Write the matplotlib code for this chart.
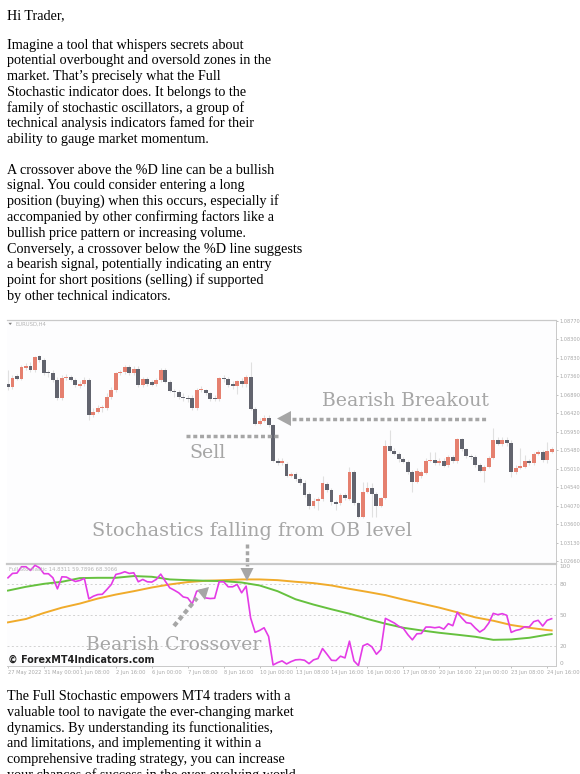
import numpy as np
import matplotlib
matplotlib.use('Agg')
import matplotlib.pyplot as plt
from matplotlib.patches import Polygon

# candles (EURUSD H4)
opens = [1.07155,1.07088,1.07367,1.07291,1.07562,1.07621,1.07519,1.07867,1.07782,1.07469,
         1.07452,1.07265,1.06800,1.07308,1.07342,1.07274,1.07121,1.07172,1.07257,1.06376,
         1.06461,1.06545,1.06554,1.06833,1.07020,1.07435,1.07460,1.07587,1.07452,1.07536,
         1.07147,1.07282,1.07206,1.07155,1.07257,1.07511,1.07223,1.06994,1.06952,1.06842,
         1.06816,1.06800,1.06545,1.07011,1.07003,1.06927,1.06800,1.06774,1.07325,1.07282,
         1.07155,1.07104,1.07248,1.07155,1.07342,1.06520,1.06147,1.06215,1.06291,1.06130,
         1.05207,1.05156,1.05139,1.04834,1.04885,1.04750,1.04640,1.04360,1.04072,1.04199,
         1.04233,1.04631,1.04479,1.04174,1.04132,1.04335,1.04250,1.04919,1.04132,1.03793,
         1.04411,1.04513,1.04360,1.04072,1.04259,1.05597,1.05470,1.05394,1.05266,1.05190,
         1.04928,1.04665,1.04826,1.04911,1.05216,1.05241,1.05156,1.05216,1.05106,1.05317,
         1.05207,1.05766,1.05504,1.05334,1.05300,1.05106,1.04953,1.05055,1.05292,1.05732,
         1.05648,1.05732,1.05664,1.04919,1.05029,1.05055,1.05207,1.05148,1.05385,1.05444,
         1.05224,1.05444]
closes = [1.07088,1.07308,1.07291,1.07587,1.07621,1.07519,1.07858,1.07782,1.07452,1.07435,
          1.07265,1.06800,1.07308,1.07342,1.07274,1.07138,1.07172,1.07257,1.06376,1.06461,
          1.06554,1.06579,1.06833,1.07020,1.07435,1.07460,1.07587,1.07452,1.07536,1.07147,
          1.07282,1.07164,1.07147,1.07265,1.07511,1.07223,1.06994,1.06952,1.06833,1.06808,
          1.06783,1.06545,1.07020,1.07045,1.06927,1.06783,1.06774,1.07308,1.07282,1.07147,
          1.07104,1.07240,1.07155,1.07342,1.06520,1.06147,1.06215,1.06291,1.06130,1.05207,
          1.05148,1.05199,1.04834,1.04885,1.04750,1.04640,1.04343,1.04055,1.04199,1.04242,
          1.04640,1.04479,1.04174,1.04123,1.04335,1.04259,1.04919,1.04132,1.03793,1.04411,
          1.04513,1.04360,1.04072,1.04259,1.05580,1.05470,1.05394,1.05258,1.05190,1.04928,
          1.04665,1.04953,1.04919,1.05216,1.05241,1.05165,1.05216,1.05089,1.05317,1.05207,
          1.05766,1.05504,1.05334,1.05300,1.05106,1.04953,1.05055,1.05292,1.05732,1.05648,
          1.05732,1.05664,1.04919,1.05029,1.05072,1.05207,1.05148,1.05385,1.05436,1.05224,
          1.05453,1.05521]
highs = [1.0752,1.0739,1.0743,1.0765,1.0769,1.0773,1.0788,1.0790,1.0783,1.0752,
         1.0752,1.0735,1.0739,1.0741,1.0739,1.0731,1.0724,1.0735,1.0731,1.0655,
         1.0663,1.0663,1.0693,1.0710,1.0748,1.0752,1.0765,1.0765,1.0761,1.0761,
         1.0735,1.0735,1.0727,1.0731,1.0756,1.0756,1.0727,1.0705,1.0701,1.0693,
         1.0688,1.0688,1.0707,1.0712,1.0704,1.0697,1.0688,1.0735,1.0739,1.0735,
         1.0723,1.0727,1.0731,1.0739,1.0773,1.0659,1.0629,1.0638,1.0638,1.0616,
         1.0528,1.0528,1.0519,1.0494,1.0494,1.0481,1.0473,1.0443,1.0426,1.0430,
         1.0483,1.0468,1.0453,1.0422,1.0439,1.0439,1.0506,1.0498,1.0417,1.0468,
         1.0468,1.0464,1.0443,1.0430,1.0574,1.0599,1.0553,1.0544,1.0532,1.0523,
         1.0498,1.0502,1.0498,1.0528,1.0544,1.0544,1.0528,1.0528,1.0536,1.0536,
         1.0580,1.0580,1.0555,1.0538,1.0536,1.0515,1.0511,1.0534,1.0604,1.0583,
         1.0583,1.0583,1.0574,1.0511,1.0553,1.0536,1.0526,1.0544,1.0549,1.0549,
         1.0570,1.0557]
lows = [1.0701,1.0704,1.0727,1.0727,1.0752,1.0748,1.0748,1.0773,1.0739,1.0735,
        1.0722,1.0676,1.0676,1.0726,1.0724,1.0710,1.0707,1.0712,1.0625,1.0633,
        1.0642,1.0646,1.0650,1.0678,1.0695,1.0739,1.0741,1.0739,1.0739,1.0710,
        1.0710,1.0712,1.0712,1.0712,1.0722,1.0718,1.0695,1.0684,1.0678,1.0673,
        1.0670,1.0650,1.0650,1.0695,1.0688,1.0673,1.0673,1.0673,1.0722,1.0710,
        1.0704,1.0690,1.0710,1.0710,1.0650,1.0612,1.0612,1.0619,1.0607,1.0519,
        1.0511,1.0511,1.0481,1.0481,1.0470,1.0460,1.0430,1.0400,1.0402,1.0396,
        1.0419,1.0443,1.0409,1.0396,1.0409,1.0422,1.0422,1.0409,1.0377,1.0375,
        1.0439,1.0379,1.0379,1.0405,1.0424,1.0544,1.0536,1.0519,1.0515,1.0489,
        1.0443,1.0464,1.0477,1.0487,1.0519,1.0512,1.0511,1.0506,1.0506,1.0517,
        1.0517,1.0546,1.0529,1.0526,1.0506,1.0492,1.0468,1.0502,1.0526,1.0561,
        1.0560,1.0560,1.0481,1.0487,1.0500,1.0502,1.0511,1.0512,1.0536,1.0519,
        1.0517,1.0540]

# stochastic pane
stoch_k = [86.5,90.8,91.1,97.3,97.3,93.7,98.7,96.4,90.5,90.5,
           86.5,75.7,87.5,87.2,84.9,82.9,83.9,85.9,65.9,68.5,
           70.1,70.4,75.0,80.0,89.8,90.8,92.4,90.8,91.4,82.6,
           84.9,82.6,82.3,84.9,90.1,83.2,76.7,74.4,71.8,67.8,
           66.8,60.9,73.4,74.4,66.8,66.2,66.5,82.6,82.6,77.7,
           77.7,80.0,71.8,78.3,47.2,33.1,35.0,37.6,29.1,1.2,
           3.5,5.2,2.2,4.5,6.2,6.5,5.8,2.5,6.2,7.5,
           17.3,11.7,5.8,5.5,9.8,8.1,24.5,5.2,0.6,19.9,
           21.9,18.9,11.7,16.3,46.8,44.5,42.2,39.0,37.0,30.8,
           25.8,31.7,32.0,38.3,38.3,37.6,38.3,36.3,41.6,39.6,
           52.7,47.2,42.6,41.9,37.3,33.4,36.3,42.2,51.7,50.4,
           51.4,49.8,33.1,35.0,36.0,38.6,38.3,43.6,44.9,39.3,
           44.9,46.5]
ma_bars = [0,4,8,12,16,20,24,28,32,36,40,44,48,52,56,60,64,68,72,76,80,84,88,92,96,100,104,108,112,116,120,121]
stoch_green = [74,77.7,80.6,82.6,86.2,86.5,86.5,88.2,87.5,84.9,84.2,83.6,83.2,81.9,79,73.4,
               65.5,60.3,55.7,51.4,46.2,41.6,37.6,35,32.7,30.8,28.8,25.8,26.2,27.8,30.8,31.4]
stoch_orange = [42.9,46.2,52.1,57.3,61.3,66.2,70.1,73.4,77,80,82.3,83.6,84.2,84.9,84.9,84.2,
                82.6,81.3,79,75.7,72.7,69.5,65.2,61.3,57.3,52.7,47.8,44.5,40.3,37.6,35.4,35]

price_ticks = [1.0877,1.0830,1.0783,1.0736,1.0689,1.0642,1.0595,1.0548,1.0501,1.0454,1.0407,1.0360,1.0313,1.0266]
date_bars = [0,8,16,24,32,40,48,56,64,72,80,88,96,104,112,120]
date_labels = ['27 May 2022','31 May 00:00','1 Jun 08:00','2 Jun 16:00','6 Jun 00:00','7 Jun 08:00',
               '8 Jun 16:00','10 Jun 00:00','13 Jun 08:00','14 Jun 16:00','16 Jun 00:00','17 Jun 08:00',
               '20 Jun 16:00','22 Jun 00:00','23 Jun 08:00','24 Jun 16:00']
stoch_ticks = [0,20,50,80,100]

para_1 = ['Imagine a tool that whispers secrets about',
          'potential overbought and oversold zones in the',
          'market. That\u2019s precisely what the Full',
          'Stochastic indicator does. It belongs to the',
          'family of stochastic oscillators, a group of',
          'technical analysis indicators famed for their',
          'ability to gauge market momentum.']
para_2 = ['A crossover above the %D line can be a bullish',
          'signal. You could consider entering a long',
          'position (buying) when this occurs, especially if',
          'accompanied by other confirming factors like a',
          'bullish price pattern or increasing volume.',
          'Conversely, a crossover below the %D line suggests',
          'a bearish signal, potentially indicating an entry',
          'point for short positions (selling) if supported',
          'by other technical indicators.']
para_3 = ['The Full Stochastic empowers MT4 traders with a',
          'valuable tool to navigate the ever-changing market',
          'dynamics. By understanding its functionalities,',
          'and limitations, and implementing it within a',
          'comprehensive trading strategy, you can increase',
          'your chances of success in the ever-evolving world']

W, H = 580, 774
fig = plt.figure(figsize=(W / 100, H / 100), dpi=100, facecolor='white')

def pane(left, top, right, bottom):
    return fig.add_axes([left / W, 1 - bottom / H, (right - left) / W, (bottom - top) / H])

GRID = '#c9c9c9'
LABEL = '#a8a8a8'
UP = '#e5806f'
DOWN = '#62646e'

bars = np.arange(len(opens))
xlim = (-0.22, 121.9)

# price pane
ax = pane(7, 319.5, 555.7, 564)
ax.set_facecolor('#fdfdfe')
ax.vlines(bars, lows, highs, color='#e0e0e0', lw=0.8, zorder=1)
cols = [UP if c >= o else DOWN for o, c in zip(opens, closes)]
ax.bar(bars, np.array(closes) - np.array(opens), bottom=opens, width=0.86, color=cols, lw=0, zorder=2)
ax.set_xlim(xlim)
ax.set_ylim(1.02593, 1.08803)
ax.yaxis.tick_right()
ax.set_yticks(price_ticks)
ax.set_yticklabels(['%.5f' % p for p in price_ticks])
ax.tick_params(axis='y', labelsize=3.6, colors=LABEL, length=1.5, width=0.5, pad=1)
ax.set_xticks([])
for s in ['left', 'bottom']:
    ax.spines[s].set_visible(False)
ax.spines['top'].set_color(GRID)
ax.spines['top'].set_linewidth(0.9)
ax.spines['right'].set_color(GRID)
ax.spines['right'].set_linewidth(0.7)

# stochastic pane
ax2 = pane(7, 564, 555.7, 666.2)
ax2.set_facecolor('#fdfdfe')
for lvl in [20, 50, 80]:
    ax2.axhline(lvl, color='#d2d2d2', lw=0.7, ls=(0, (2, 2.5)), zorder=1)
ax2.plot(ma_bars, stoch_orange, color='#f0ab2b', lw=1.4, zorder=2)
ax2.plot(ma_bars, stoch_green, color='#66c13f', lw=1.4, zorder=3)
ax2.plot(bars, stoch_k, color='#e43be6', lw=1.2, zorder=4)
ax2.set_xlim(xlim)
ax2.set_ylim(0, 100)
ax2.yaxis.tick_right()
ax2.set_yticks(stoch_ticks)
ax2.set_yticklabels([str(t) for t in stoch_ticks])
ax2.tick_params(axis='y', labelsize=4.2, colors=LABEL, length=0, pad=3)
ylabs = ax2.get_yticklabels()
ylabs[0].set_va('bottom')
ylabs[-1].set_va('top')
ax2.set_xticks(date_bars)
ax2.set_xticklabels(date_labels, ha='left')
ax2.tick_params(axis='x', labelsize=3.7, colors=LABEL, length=1.5, width=0.5, pad=1.5)
ax2.spines['left'].set_visible(False)
ax2.spines['top'].set_color('#c8c8c8')
ax2.spines['top'].set_linewidth(1.6)
ax2.spines['right'].set_color(GRID)
ax2.spines['right'].set_linewidth(0.7)
ax2.spines['bottom'].set_color(GRID)
ax2.spines['bottom'].set_linewidth(0.7)

# overlay in pixel coords for the text and the drawn-on arrows
top = fig.add_axes([0, 0, 1, 1], zorder=10)
top.set_xlim(0, W)
top.set_ylim(H, 0)
top.axis('off')

def para(lines, y0, step=15.8):
    for i, line in enumerate(lines):
        top.text(7, y0 + i * step, line, family='Liberation Serif', fontsize=10.16,
                 color='black', va='baseline', clip_on=False)

top.text(7, 19, 'Hi Trader,', family='Liberation Serif', fontsize=10.16, color='black')
para(para_1, 48.5)
para(para_2, 173.5)
para(para_3, 700)

ANNOT = '#a6a6a6'
dots = (0, (1.15, 0.8))
top.plot([292, 488], [418.5, 418.5], color=ANNOT, lw=2.5, ls=dots, dash_capstyle='butt')
top.plot([186, 278], [436, 436], color=ANNOT, lw=2.5, ls=dots, dash_capstyle='butt')
top.plot([247, 247], [544, 566], color=ANNOT, lw=2.5, ls=dots, dash_capstyle='butt')
top.plot([174, 197], [626, 598], color=ANNOT, lw=3.0, ls=dots, dash_capstyle='butt')
top.add_patch(Polygon([[277, 418.5], [291, 411], [291, 426]], color=ANNOT, lw=0))
top.add_patch(Polygon([[240.5, 568], [253.5, 568], [247, 581]], color=ANNOT, lw=0))
top.add_patch(Polygon([[209, 587], [197, 590], [205, 600]], color=ANNOT, lw=0))

big = dict(family='DejaVu Serif', color=ANNOT, va='center', ha='left', fontsize=13.6)
top.text(322, 401, 'Bearish Breakout', **big)
top.text(189, 453, 'Sell', **big)
top.text(92, 531, 'Stochastics falling from OB level', family='DejaVu Serif', color=ANNOT,
         va='center', ha='left', fontsize=13.77)
top.text(86, 645.5, 'Bearish Crossover', **big)

top.text(8, 660, '\u00a9 ForexMT4Indicators.com', family='DejaVu Sans', weight='bold',
         fontsize=6.9, color='#222222', va='center')
top.text(16, 324, 'EURUSD,H4', family='DejaVu Sans', fontsize=3.8, color='#b5b5b5', va='center')
top.add_patch(Polygon([[8.5, 322.8], [12, 322.8], [10.2, 325]], color='#808080', lw=0))
top.text(9, 569.5, 'Full Stochastic 14.8311 59.7896 68.3066', family='DejaVu Sans', fontsize=3.8,
         color='#b5b5b5', va='center')

fig.savefig('out.png', dpi=100)
